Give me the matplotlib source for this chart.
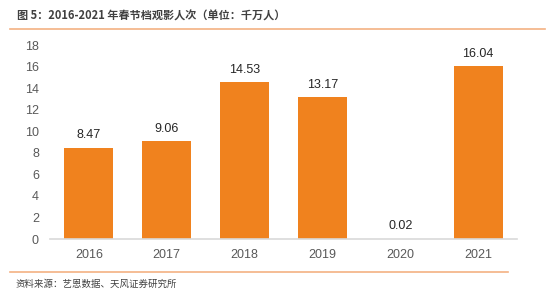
import matplotlib.pyplot as plt
from matplotlib.lines import Line2D

plt.rcParams['font.family'] = ['Noto Sans CJK SC', 'DejaVu Sans']

years = ['2016', '2017', '2018', '2019', '2020', '2021']
values = [8.47, 9.06, 14.53, 13.17, 0.02, 16.04]

fig = plt.figure(figsize=(5.54, 2.98), dpi=100)
ax = fig.add_axes([50/554, 1-239/298, (517-50)/554, (239-45)/298])

x = range(len(years))
bars = ax.bar(x, values, width=0.63, color='#F0821E')
for xi, v in zip(x, values):
    ax.text(xi, v + 0.6, f'{v:.2f}', ha='center', va='bottom', fontsize=9, color='#262626',
            family=['Liberation Sans', 'DejaVu Sans'])

ax.set_xlim(-0.5, 5.5)
ax.set_ylim(0, 18)
ax.set_yticks(range(0, 19, 2))
ax.set_xticks(list(x))
ax.set_xticklabels(years)
for lab in ax.get_xticklabels() + ax.get_yticklabels():
    lab.set_family(['Liberation Sans', 'DejaVu Sans'])
    lab.set_fontsize(9)
    lab.set_color('#595959')
ax.tick_params(length=0)
ax.tick_params(axis='y', pad=8)
ax.tick_params(axis='x', pad=7)
for s in ['top', 'right', 'left']:
    ax.spines[s].set_visible(False)
ax.spines['bottom'].set_color('#D9D9D9')
ax.spines['bottom'].set_linewidth(1.2)

fig.text(17/554, 1-16/298, '图 5：2016-2021 年春节档观影人次（单位：千万人）', fontsize=8,
         fontweight='bold', color='#404040', va='center', ha='left')
fig.add_artist(Line2D([10/554, 545/554], [1-29/298, 1-29/298], color='#F4B183', lw=1.2))
fig.add_artist(Line2D([10/554, 508/554], [1-272/298, 1-272/298], color='#F4B183', lw=1.2))
fig.text(16/554, 1-284/298, '资料来源：艺恩数据、天风证券研究所', fontsize=6.8,
         color='#404040', va='center', ha='left')

fig.savefig('out.png', dpi=100)
